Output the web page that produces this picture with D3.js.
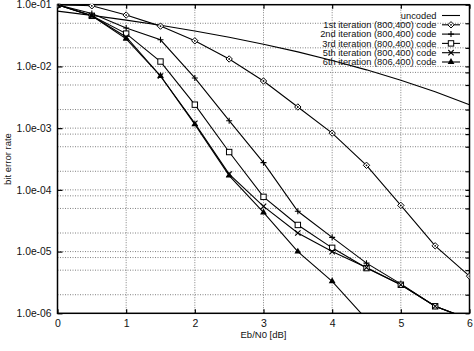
<!DOCTYPE html>
<html><head><meta charset="utf-8">
<script src="https://cdn.jsdelivr.net/npm/d3@7"></script>
<style>body{margin:0;background:#fff}svg{display:block}text{font-family:"Liberation Sans",Arial,Helvetica,sans-serif;fill:#111}</style>
</head><body><svg id="c" width="474" height="351"></svg>
<script>
const ebn0 = [0,0.5,1,1.5,2,2.5,3,3.5,4,4.5,5,5.5,6];
const uncoded = [0.0786,0.0671,0.0563,0.0464,0.0375,0.0296,0.0229,0.0172,0.0125,0.0088,0.00595,0.00388,0.00239];
const iter1 = [0.1,0.096,0.068,0.045,0.026,0.0132,0.0058,0.0022,8.3e-4,2.5e-4,5.6e-5,1.24e-5,4e-6];
const iter2 = [0.1,0.072,0.042,0.027,6.5e-3,1.32e-3,2.76e-4,4.5e-5,1.7e-5,6.5e-6,3e-6,1.3e-6,8e-7];
const iter3 = [0.1,0.066,0.034,0.012,2.4e-3,4.1e-4,7.7e-5,2.7e-5,1.15e-5,5.4e-6,2.9e-6,1.3e-6,8e-7];
const iter5 = [0.1,0.066,0.03,7e-3,1.2e-3,1.8e-4,5.4e-5,2e-5,1e-5,5.5e-6,2.9e-6,1.3e-6,8e-7];
const iter6 = [0.1,0.066,0.028,7e-3,1.15e-3,1.7e-4,4.3e-5,1e-5,3.3e-6,8e-7];
const seriesNames = ["uncoded","1st iteration (800,400) code","2nd iteration (800,400) code","3rd iteration (800,400) code","5th iteration (800,400) code","6th iteration (806,400) code"];
const xTicks = [0,1,2,3,4,5,6];
const yTicks = [1e-1,1e-2,1e-3,1e-4,1e-5,1e-6];
const yTickLabels = ["1.0e-01","1.0e-02","1.0e-03","1.0e-04","1.0e-05","1.0e-06"];
const yMinorGrid = [5e-2,2e-2,8e-3,5e-3,2e-3,8e-4,5e-4,2e-4,8e-5,5e-5,2e-5,8e-6,5e-6,2e-6];
const xLabel = "Eb/N0 [dB]";
const yLabel = "bit error rate";

const L=57.5,R=469.5,T=4.7,B=313.3;
const svg=d3.select("#c");
const x=d3.scaleLinear().domain([0,6]).range([L,R]);
const y=d3.scaleLog().domain([1e-6,1e-1]).range([B,T]);

// grid
const g=svg.append("g");
g.selectAll(".hg").data(yTicks.slice(1,-1).concat(yMinorGrid)).join("line")
 .attr("x1",L).attr("x2",R).attr("y1",d=>y(d)).attr("y2",d=>y(d))
 .attr("stroke","#808080").attr("stroke-width",1).attr("stroke-dasharray","1,1.5");
g.selectAll(".vg").data(xTicks.slice(1,-1)).join("line")
 .attr("y1",T).attr("y2",B).attr("x1",d=>x(d)).attr("x2",d=>x(d))
 .attr("stroke","#808080").attr("stroke-width",1).attr("stroke-dasharray","1,1.5");

// axes
const ax=svg.append("g").attr("transform",`translate(0,${B})`)
 .call(d3.axisBottom(x).tickValues(xTicks).tickSize(-4).tickPadding(6).tickFormat(d3.format("d")));
const ay=svg.append("g").attr("transform",`translate(${L},0)`)
 .call(d3.axisLeft(y).tickValues(yTicks).tickSize(-5).tickPadding(6).tickFormat((d,i)=>yTickLabels[i]));
svg.append("g").attr("transform",`translate(${R},0)`)
 .call(d3.axisRight(y).tickValues(yTicks.concat(yMinorGrid)).tickSize(-4).tickFormat(""));
svg.append("g").attr("transform",`translate(0,${T})`)
 .call(d3.axisTop(x).tickValues(xTicks).tickSize(-4).tickFormat(""));
svg.selectAll(".domain").remove();
svg.selectAll(".tick line").attr("stroke","#000").attr("stroke-width",1.2);
ax.selectAll("text").attr("font-size","10.5px").attr("fill","#111");
ay.selectAll("text").attr("font-size","10.3px").attr("fill","#111");
svg.append("rect").attr("x",L).attr("y",T).attr("width",R-L).attr("height",B-T)
 .attr("fill","none").attr("stroke","#000").attr("stroke-width",1.5);

svg.append("text").attr("x",x(3)).attr("y",338).attr("text-anchor","middle").attr("font-size","9.5px").text(xLabel);
svg.append("text").attr("transform",`translate(11,${(T+B)/2}) rotate(-90)`).attr("text-anchor","middle").attr("font-size","9.5px").text(yLabel);

// curves
svg.append("clipPath").attr("id","clp").append("rect").attr("x",L).attr("y",T-1).attr("width",R-L).attr("height",B-T+1);
const plot=svg.append("g").attr("clip-path","url(#clp)");
const line=d3.line().x(d=>x(d[0])).y(d=>y(d[1]));
const all=[uncoded,iter1,iter2,iter3,iter5,iter6];
const marks=[null,"diamond","plus","square","cross","triangle"];
function marker(sel,type){
  if(type==="diamond"){sel.append("path").attr("d","M0,-3.2L3.2,0L0,3.2L-3.2,0Z").attr("fill","#fff").attr("stroke","#000").attr("stroke-width",1);
    sel.append("circle").attr("r",0.9).attr("fill","#000");}
  if(type==="plus"){sel.append("path").attr("d","M-3,0H3M0,-3V3").attr("stroke","#000").attr("stroke-width",1.1);}
  if(type==="square"){sel.append("rect").attr("x",-2.7).attr("y",-2.7).attr("width",5.4).attr("height",5.4).attr("fill","#fff").attr("stroke","#000").attr("stroke-width",1);}
  if(type==="cross"){sel.append("path").attr("d","M-2.7,-2.7L2.7,2.7M-2.7,2.7L2.7,-2.7").attr("stroke","#000").attr("stroke-width",1.1);}
  if(type==="triangle"){sel.append("path").attr("d",d3.symbol(d3.symbolTriangle,20)()).attr("fill","#000");}
}
all.forEach((vals,i)=>{
  const pts=vals.map((v,j)=>[ebn0[j],v]);
  plot.append("path").datum(pts).attr("d",line).attr("fill","none").attr("stroke","#000").attr("stroke-width",1.1);
});
all.forEach((vals,i)=>{
  if(!marks[i]) return;
  const pts=vals.map((v,j)=>[ebn0[j],v]).filter(p=>y(p[1])<=B+0.5);
  plot.selectAll(null).data(pts).join("g").attr("transform",p=>`translate(${x(p[0])},${y(p[1])})`)
   .each(function(){marker(d3.select(this),marks[i]);});
});

// legend
const lg=svg.append("g");
seriesNames.forEach((name,i)=>{
  const yy=15.5+i*9.3;
  lg.append("text").attr("x",436.5).attr("y",yy+3.2).attr("text-anchor","end").attr("font-size","9.3px").text(name);
  lg.append("line").attr("x1",442).attr("x2",460).attr("y1",yy).attr("y2",yy).attr("stroke","#000").attr("stroke-width",1.1);
  if(marks[i]) marker(lg.append("g").attr("transform",`translate(451,${yy})`),marks[i]);
});
</script></body></html>
